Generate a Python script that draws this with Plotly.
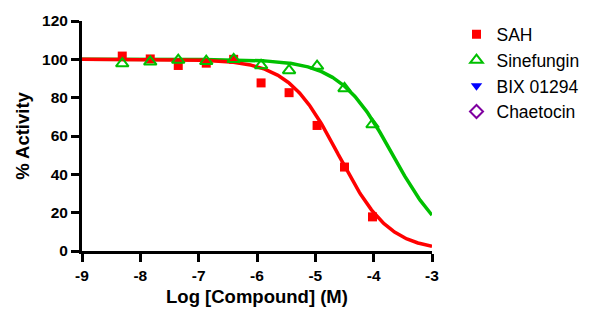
import numpy as np
import plotly.graph_objects as go

# Data
log_conc = [-8.31, -7.83, -7.35, -6.87, -6.40, -5.93, -5.45, -4.97, -4.50, -4.02]
sah = [101.7, 100.2, 96.8, 98.0, 100.0, 87.7, 82.6, 65.5, 43.8, 17.8]
sinefungin = [97.8, 98.7, 99.6, 99.0, 100.0, 96.8, 94.2, 96.5, 84.8, 66.0]

# 4PL fit parameters (top, bottom, logIC50, hill)
sah_fit = dict(top=100.0, bottom=0.0, logic50=-4.60, hill=1.0)
sine_fit = dict(top=100.0, bottom=0.0, logic50=-3.67, hill=0.95)

x_ticks = [-9, -8, -7, -6, -5, -4, -3]
x_ticktext = ["-9", "-8", "-7", "-6", "-5", "-4", "-3"]
y_ticks = [0, 20, 40, 60, 80, 100, 120]

FONT = "Liberation Sans, Arial, sans-serif"


def four_pl(x, p):
    x = np.asarray(x)
    return p["bottom"] + (p["top"] - p["bottom"]) / (1 + 10 ** ((x - p["logic50"]) * p["hill"]))


xs = np.linspace(-9, -3, 300)

fig = go.Figure()
fig.add_trace(go.Scatter(x=xs, y=four_pl(xs, sine_fit), mode="lines",
                         line=dict(color="#00c000", width=3.5), showlegend=False, hoverinfo="skip"))
fig.add_trace(go.Scatter(x=xs, y=four_pl(xs, sah_fit), mode="lines",
                         line=dict(color="#ff0000", width=3.5), showlegend=False, hoverinfo="skip"))

fig.add_trace(go.Scatter(x=log_conc, y=sah, mode="markers", name="SAH", legendgroup="a",
                         marker=dict(symbol="square", size=9, color="#ff0000")))
fig.add_trace(go.Scatter(x=log_conc, y=sinefungin, mode="markers", name="Sinefungin", legendgroup="b",
                         marker=dict(symbol="triangle-up-open", size=11, color="#00c000",
                                     line=dict(width=2, color="#00c000"))))
fig.add_trace(go.Scatter(x=[None], y=[None], mode="markers", name="BIX 01294", legendgroup="c",
                         marker=dict(symbol="triangle-down", size=10, color="#0000ff")))
fig.add_trace(go.Scatter(x=[None], y=[None], mode="markers", name="Chaetocin", legendgroup="d",
                         marker=dict(symbol="diamond-open", size=10, color="#7f00a0",
                                     line=dict(width=2, color="#7f00a0"))))

axis_common = dict(showline=True, linecolor="black", linewidth=3, ticks="outside",
                   ticklen=8, tickwidth=3, tickcolor="black", showgrid=False, zeroline=False,
                   tickfont=dict(family=FONT, size=15.5, color="black", weight="bold"))

fig.update_layout(
    width=600, height=326,
    margin=dict(l=82, r=168, t=17, b=75),
    paper_bgcolor="white", plot_bgcolor="white",
    xaxis=dict(range=[-9, -3], tickvals=x_ticks, ticktext=x_ticktext,
               title=dict(text="Log [Compound] (M)", font=dict(family=FONT, size=18.5, color="black", weight="bold"),
                          standoff=8),
               **axis_common),
    yaxis=dict(range=[0, 120], tickvals=y_ticks,
               title=dict(text="% Activity", font=dict(family=FONT, size=18.5, color="black", weight="bold"),
                          standoff=8),
               **axis_common),
    legend=dict(x=1.07, y=1.02, xanchor="left", yanchor="top", tracegroupgap=0,
                font=dict(family=FONT, size=17.5, color="black"), bgcolor="rgba(0,0,0,0)"),
)

fig.write_html("out.html")
